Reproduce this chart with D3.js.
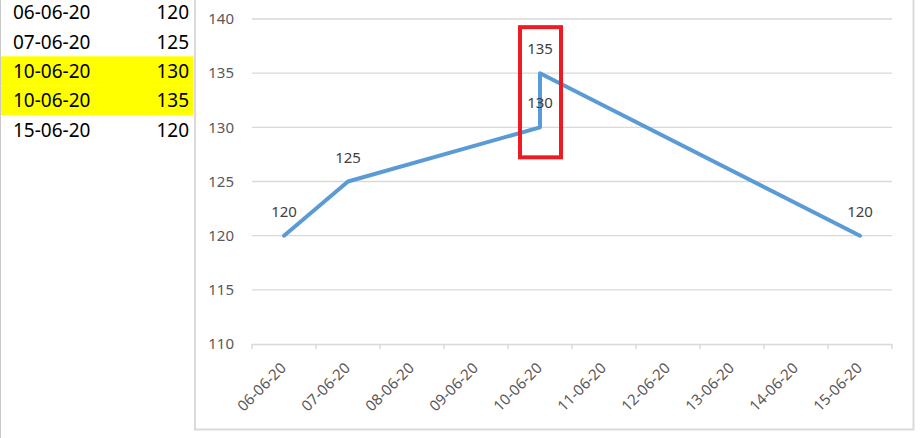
<!DOCTYPE html>
<html>
<head>
<meta charset="utf-8">
<script src="https://cdn.jsdelivr.net/npm/d3@7"></script>
<style>
  html, body { margin: 0; padding: 0; background: #fff; }
  svg { display: block; }
</style>
</head>
<body>
<svg id="chart" width="920" height="438"></svg>
<script>
// axis categories (one per day on Excel's date axis)
const days = ['06-06-20', '07-06-20', '08-06-20', '09-06-20', '10-06-20',
              '11-06-20', '12-06-20', '13-06-20', '14-06-20', '15-06-20']
// series: the sheet rows
const pointDates = ['06-06-20', '07-06-20', '10-06-20', '10-06-20', '15-06-20']
const pointValues = [120, 125, 130, 135, 120]
const highlighted = [false, false, true, true, false]
const yTicks = [110, 115, 120, 125, 130, 135, 140]
const markedDay = '10-06-20'

const svg = d3.select('#chart')
const W = 920, H = 438
const FONT = 'Noto Sans, sans-serif'

const plot = { left: 252, right: 892, top: 19, bottom: 344 }

// ---- sheet cells on the left ----
const rowH = 29.4, rowTop = -2.5
const rows = pointDates.map((d, i) => ({ date: d, value: pointValues[i], hl: highlighted[i] }))

svg.append('line')
  .attr('x1', 0.5).attr('x2', 0.5).attr('y1', 0).attr('y2', H)
  .style('stroke', '#c8c8c8').style('stroke-width', 1)

const cell = svg.selectAll('g.row')
  .data(rows)
  .enter()
  .append('g')
  .attr('class', 'row')
  .attr('transform', (d, i) => `translate(0,${rowTop + i * rowH})`)

cell.filter(d => d.hl)
  .append('rect')
  .attr('x', 1).attr('y', 0)
  .attr('width', 192).attr('height', rowH)
  .style('fill', '#ffff00')

cell.append('text')
  .attr('x', 13).attr('y', rowH / 2 + 7)
  .attr('font-family', FONT)
  .attr('font-size', 19)
  .attr('fill', '#000')
  .text(d => d.date)

cell.append('text')
  .attr('x', 189).attr('y', rowH / 2 + 7)
  .attr('text-anchor', 'end')
  .attr('font-family', FONT)
  .attr('font-size', 19)
  .attr('fill', '#000')
  .text(d => d.value)

// ---- chart frame ----
svg.append('path')
  .attr('d', `M195,0 V429.5 H913.5 V0`)
  .style('fill', 'none')
  .style('stroke', '#d9d9d9')
  .style('stroke-width', 2)

// ---- scales ----
const x = d3.scaleBand()
  .domain(days)
  .range([plot.left, plot.right])
  .padding(0)

const y = d3.scaleLinear()
  .domain([110, 140])
  .range([plot.bottom, plot.top])

const xc = d => x(d) + x.bandwidth() / 2

// gridlines
svg.append('g')
  .selectAll('line')
  .data(yTicks.slice(1))
  .enter()
  .append('line')
  .attr('x1', plot.left).attr('x2', plot.right)
  .attr('y1', d => y(d)).attr('y2', d => y(d))
  .style('stroke', '#d9d9d9')
  .style('stroke-width', 1.3)

// y axis
const yAxis = svg.append('g')
  .attr('transform', `translate(${plot.left},0)`)
  .call(d3.axisLeft(y).tickValues(yTicks).tickSize(0).tickPadding(18))
  .attr('font-family', FONT)
  .attr('font-size', 15)
yAxis.select('.domain').remove()
yAxis.selectAll('text')
  .attr('fill', '#595959')

// x axis
const xAxis = svg.append('g')
  .attr('transform', `translate(0,${plot.bottom})`)
  .call(d3.axisBottom(x).tickSize(0).tickFormat(''))
  .attr('font-family', FONT)
  .attr('font-size', 15)
xAxis.select('.domain')
  .attr('d', `M${plot.left},0.5H${plot.right}`)
  .style('stroke', '#d9d9d9')
  .style('stroke-width', 1.5)

// little tick marks at category boundaries
xAxis.selectAll('line.bound')
  .data(days.concat(['end']))
  .enter()
  .append('line')
  .attr('class', 'bound')
  .attr('x1', (d, i) => i < days.length ? x(d) : plot.right)
  .attr('x2', (d, i) => i < days.length ? x(d) : plot.right)
  .attr('y1', 0).attr('y2', 5)
  .style('stroke', '#d9d9d9')
  .style('stroke-width', 1.5)

xAxis.selectAll('text.lab')
  .data(days)
  .enter()
  .append('text')
  .attr('class', 'lab')
  .attr('text-anchor', 'end')
  .attr('transform', d => `translate(${xc(d) + 3},${25}) rotate(-45)`)
  .attr('fill', '#595959')
  .text(d => d)

// ---- the line ----
const pts = pointDates.map((d, i) => ({ date: d, value: pointValues[i] }))

const line = d3.line()
  .x(d => xc(d.date))
  .y(d => y(d.value))

svg.append('path')
  .datum(pts)
  .attr('d', line)
  .style('fill', 'none')
  .style('stroke', '#5b9bd5')
  .style('stroke-width', 4)
  .style('stroke-linejoin', 'round')
  .style('stroke-linecap', 'round')

// data labels
svg.selectAll('text.dl')
  .data(pts)
  .enter()
  .append('text')
  .attr('class', 'dl')
  .attr('x', d => xc(d.date))
  .attr('y', d => y(d.value) - 19)
  .attr('text-anchor', 'middle')
  .attr('font-family', FONT)
  .attr('font-size', 15)
  .attr('fill', '#404040')
  .text(d => d.value)

// red box round the double point
const mx = xc(markedDay)
svg.append('rect')
  .attr('x', mx - 20)
  .attr('y', y(135) - 46)
  .attr('width', 41)
  .attr('height', (y(130) + 30) - (y(135) - 46))
  .style('fill', 'none')
  .style('stroke', '#ed1c24')
  .style('stroke-width', 4)
</script>
</body>
</html>
